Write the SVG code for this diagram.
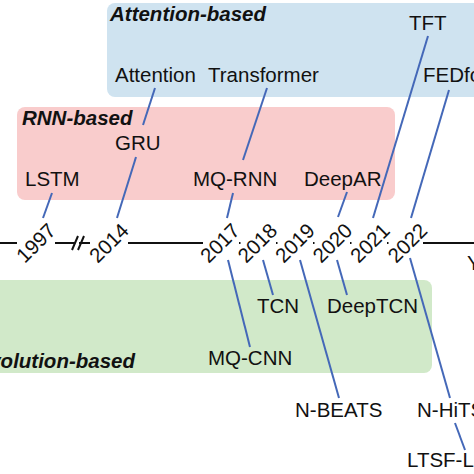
<svg xmlns="http://www.w3.org/2000/svg" width="474" height="474" viewBox="0 0 474 474">
<style>
.t{font-family:"Liberation Sans",Arial,sans-serif;font-size:20.5px;fill:#111}
.h{font-family:"Liberation Sans",Arial,sans-serif;font-size:20.5px;font-weight:bold;font-style:italic;fill:#111}
.y{font-family:"Liberation Sans",Arial,sans-serif;font-size:20.5px;fill:#111;text-anchor:middle}
.c{stroke:#4468b8;stroke-width:2;fill:none;stroke-linecap:butt}
.tl{stroke:#111;stroke-width:2;fill:none}
</style>
<rect width="474" height="474" fill="#fff"/>
<g id="groups">
<g id="attention-based"><rect x="107" y="3" width="380" height="94" rx="8" fill="#cfe3f0"/><text class="h" x="110" y="21">Attention-based</text></g>
<g id="rnn-based"><rect x="17" y="107" width="378" height="93" rx="8" fill="#f9cccc"/><text class="h" x="22" y="125">RNN-based</text></g>
<g id="convolution-based"><rect x="-20" y="280" width="452" height="93" rx="8" fill="#d1e9c9"/><text class="h" x="135" y="368" text-anchor="end">Convolution-based</text></g>
</g>
<g id="timeline">
<path class="tl" d="M0 243H17M55 243H75M79 243H90M128 243H203M423 243H474M239 243H240.5M276 243H277.5M313 243H314.5M350 243H351.5M387 243H388.5"/>
<path class="tl" d="M72 250L78 236M78 250L84 236"/>
<text class="t" x="467" y="270">Year</text>
</g>
<g id="years">
<g id="y1997" transform="translate(36,243) rotate(-45)"><text class="y" y="7">1997</text></g>
<g id="y2014" transform="translate(109,243) rotate(-45)"><text class="y" y="7">2014</text></g>
<g id="y2017" transform="translate(220,243) rotate(-45)"><text class="y" y="7">2017</text></g>
<g id="y2018" transform="translate(257.5,243) rotate(-45)"><text class="y" y="7">2018</text></g>
<g id="y2019" transform="translate(295,243) rotate(-45)"><text class="y" y="7">2019</text></g>
<g id="y2020" transform="translate(332.5,243) rotate(-45)"><text class="y" y="7">2020</text></g>
<g id="y2021" transform="translate(370,243) rotate(-45)"><text class="y" y="7">2021</text></g>
<g id="y2022" transform="translate(407.5,243) rotate(-45)"><text class="y" y="7">2022</text></g>
</g>
<g id="connectors">
<line class="c" x1="52" y1="193" x2="43" y2="218"/>
<line class="c" x1="136" y1="157" x2="117" y2="218"/>
<line class="c" x1="155" y1="88" x2="143" y2="125"/>
<line class="c" x1="267" y1="88" x2="243" y2="160"/>
<line class="c" x1="233" y1="193" x2="227" y2="218"/>
<line class="c" x1="347" y1="192" x2="338" y2="217"/>
<line class="c" x1="428" y1="36" x2="373" y2="218"/>
<line class="c" x1="449" y1="90" x2="411" y2="218"/>
<line class="c" x1="228" y1="260" x2="250" y2="347"/>
<line class="c" x1="263" y1="260" x2="273" y2="295"/>
<line class="c" x1="300" y1="260" x2="339" y2="398"/>
<line class="c" x1="337" y1="260" x2="347" y2="295"/>
<line class="c" x1="410" y1="258" x2="450" y2="398"/>
<line class="c" x1="455" y1="423" x2="465" y2="450"/>
</g>
<g id="models">
<g id="attention"><text class="t" x="115" y="82">Attention</text></g>
<g id="transformer"><text class="t" x="208" y="82">Transformer</text></g>
<g id="tft"><text class="t" x="409" y="30">TFT</text></g>
<g id="fedformer"><text class="t" x="423" y="82">FEDformer</text></g>
<g id="gru"><text class="t" x="115" y="150">GRU</text></g>
<g id="lstm"><text class="t" x="25" y="186">LSTM</text></g>
<g id="mq-rnn"><text class="t" x="193" y="186">MQ-RNN</text></g>
<g id="deepar"><text class="t" x="304" y="186">DeepAR</text></g>
<g id="tcn"><text class="t" x="257" y="313">TCN</text></g>
<g id="deeptcn"><text class="t" x="327" y="313">DeepTCN</text></g>
<g id="mq-cnn"><text class="t" x="208" y="365">MQ-CNN</text></g>
<g id="n-beats"><text class="t" x="295" y="417">N-BEATS</text></g>
<g id="n-hits"><text class="t" x="417" y="417">N-HiTS</text></g>
<g id="ltsf-linear"><text class="t" x="407" y="467">LTSF-Linear</text></g>
</g>
</svg>
